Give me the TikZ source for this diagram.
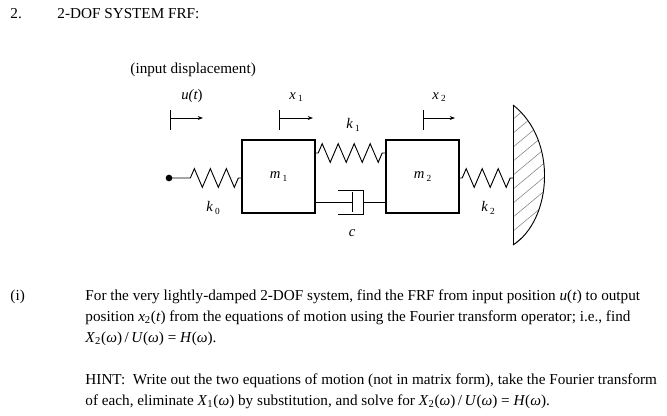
\documentclass[tikz,border=0pt]{standalone}
\usepackage{fontspec}
\setmainfont{Liberation Serif}
\usetikzlibrary{decorations.pathmorphing,arrows.meta}
\newcommand{\sbs}[1]{\raisebox{-0.35ex}{\hspace{0.15em}\fontsize{7}{8}\selectfont\upshape #1}}
\begin{document}
\begin{tikzpicture}[x=0.75pt,y=-0.75pt,
  txt/.style={anchor=west,inner sep=0,font=\fontsize{11.4}{13}\selectfont},
  lbl/.style={inner sep=0,font=\fontsize{11}{12}\selectfont\itshape},
  mass/.style={draw,thick,minimum width=54.75pt,minimum height=54.75pt,inner sep=0},
  spr/.style={decorate,decoration={zigzag,segment length=12pt,amplitude=7pt,pre length=#1,post length=1pt}},
  arr/.style={-{Stealth[length=4pt,width=3pt]}},
  line width=0.7pt]
\useasboundingbox (0,0) rectangle (667,415);
\node[txt] (n2) at (10,14) {2.};
\node[txt] (title) at (57,14) {2-DOF SYSTEM FRF:};
\node[txt] (inp) at (130,70) {(input displacement)};
% masses
\node[mass] (m1) at (278.5,176.5) {};
\node[mass] (m2) at (422.5,176.5) {};
\node[lbl] at (m1) {m\sbs{1}};
\node[lbl] at (m2) {m\sbs{2}};
% input dot and k0
\coordinate (dot) at (169,178);
\fill (dot) circle (2.5pt);
\draw[spr=16pt] (dot) -- (m1.west|-dot);
\node[lbl] (k0) at (213,208) {k\sbs{0}};
% k1
\coordinate (k1a) at (315,153); \coordinate (k1b) at (387,153);
\draw[spr=2pt] (m1.east|-k1a) -- (m2.west|-k1b);
\node[lbl] (k1) at (353,125) {k\sbs{1}};
% dashpot
\coordinate (dp) at (352,202);
\draw (m1.east|-dp) -- (352,202);
\draw (m2.west|-dp) -- (363,202);
\draw (352,192) -- (352,212);
\draw (338,190) -- (363,190) -- (363,214) -- (338,214);
\node[lbl] (c) at (352,233) {c};
% wall
\coordinate (w1) at (513,105); \coordinate (w2) at (513,245);
\begin{scope}
\clip (w1) .. controls (558,140) and (552,220) .. (w2) -- cycle;
\foreach \i in {0,...,14} \draw[line width=0.4pt,gray] (500,260-\i*14+10) -- (560,260-\i*14-40);
\end{scope}
\draw (w1) .. controls (558,140) and (552,220) .. (w2);
\draw (w1) -- (w2);
\draw[spr=2pt] (m2.east|-dot) -- (513,178);
\node[lbl] (k2) at (488,208) {k\sbs{2}};
% displacement markers
\foreach \x/\e in {170/203,279/313,423/455}{
  \draw (\x,110) -- (\x,130);
  \draw[arr] (\x,118) -- (\e,118);
}
\node[lbl] (u) at (192,96) {u(\upshape\itshape t\upshape )};
\node[lbl] (x1) at (296,97) {x\sbs{1}};
\node[lbl] (x2) at (439,97) {x\sbs{2}};
% text
\node[txt] (i) at (10,297) {(i)};
\node[txt] (l1) at (85,297) {For the very lightly-damped 2-DOF system, find the FRF from input position \textit{u}(\textit{t}) to output};
\node[txt] (l2) at (85,318) {position \textit{x}\textsubscript{2}(\textit{t}) from the equations of motion using the Fourier transform operator; i.e., find};
\node[txt] (l3) at (85,339) {\textit{X}\textsubscript{2}(\textit{ω})\,/\,\textit{U}(\textit{ω}) = \textit{H}(\textit{ω}).};
\node[txt] (l4) at (85,381) {HINT:\ \ Write out the two equations of motion (not in matrix form), take the Fourier transform};
\node[txt] (l5) at (85,402) {of each, eliminate \textit{X}\textsubscript{1}(\textit{ω}) by substitution, and solve for \textit{X}\textsubscript{2}(\textit{ω})\,/\,\textit{U}(\textit{ω}) = \textit{H}(\textit{ω}).};
\end{tikzpicture}
\end{document}
